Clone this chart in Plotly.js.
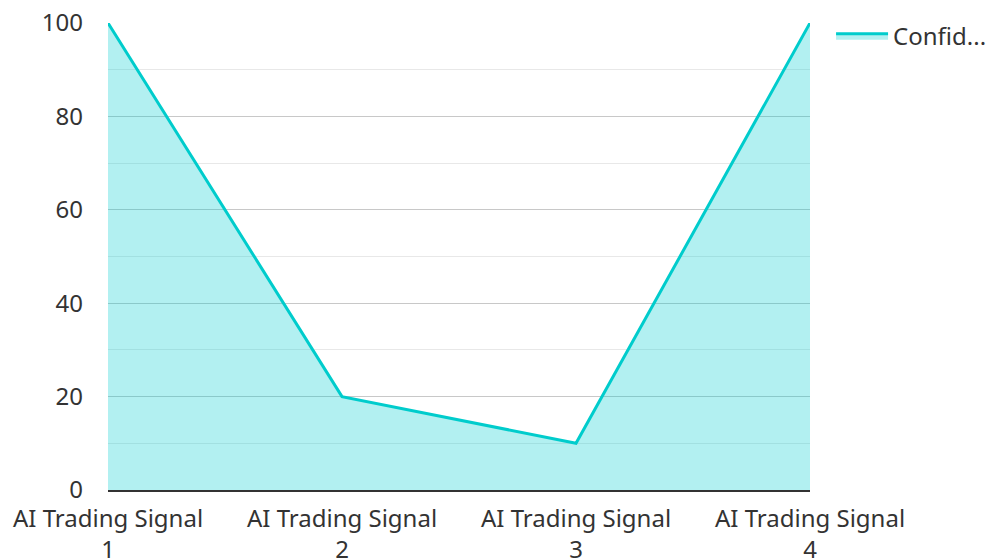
<!DOCTYPE html>
<html><head><meta charset="utf-8">
<script src="https://cdn.plot.ly/plotly-3.0.1.min.js"></script>
<style>html,body{margin:0;padding:0;background:#fff}#c{width:992px;height:560px}</style>
</head><body><div id="c"></div>
<script>
const categories = ["AI Trading Signal<br>1", "AI Trading Signal<br>2", "AI Trading Signal<br>3", "AI Trading Signal<br>4"];
const confidence = [100, 20, 10, 100];
const seriesName = "Confid...";
const yTicks = [0, 20, 40, 60, 80, 100];

const font = {family: "Noto Sans, sans-serif", size: 24, color: "#333"};
Plotly.newPlot("c", [{
  x: categories, y: confidence, name: seriesName, type: "scatter", mode: "lines",
  fill: "tozeroy", fillcolor: "rgba(0,206,209,0.3)",
  line: {color: "#00cccc", width: 3}
}], {
  width: 992, height: 560,
  margin: {l: 108, r: 182, t: 23, b: 70, autoexpand: false},
  paper_bgcolor: "#fff", plot_bgcolor: "#fff",
  font: font,
  showlegend: true,
  legend: {x: 1.03, y: 1.02, xanchor: "left", yanchor: "top", font: font, itemwidth: 52},
  xaxis: {type: "category", range: [0, 3], showgrid: false, ticks: "", zeroline: false, automargin: false,
          showline: true, linecolor: "#333", linewidth: 2, tickfont: font, ticklabelstandoff: 6},
  yaxis: {range: [0, 100], tickvals: yTicks, showgrid: true, gridcolor: "#c8c8c8", gridwidth: 1, automargin: false,
          minor: {dtick: 10, showgrid: true, gridcolor: "#e8e8e8", gridwidth: 1},
          zeroline: false, showline: false, ticks: "", tickfont: font, ticklabelstandoff: 24}
}, {displayModeBar: false});
</script></body></html>
